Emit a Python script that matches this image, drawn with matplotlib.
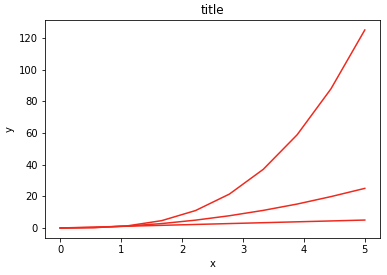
import matplotlib
matplotlib.use("Agg")
import matplotlib.pyplot as plt

x = [0.0, 0.556, 1.111, 1.667, 2.222, 2.778, 3.333, 3.889, 4.444, 5.0]
y_linear = [0.0, 0.56, 1.11, 1.67, 2.22, 2.78, 3.33, 3.89, 4.44, 5.0]
y_square = [0.0, 0.31, 1.23, 2.78, 4.94, 7.72, 11.1, 15.1, 19.8, 25.0]
y_cube = [0.0, 0.17, 1.37, 4.63, 11.0, 21.4, 37.0, 58.8, 87.8, 125.0]

color = "#ee2a1e"

fig = plt.figure(figsize=(387 / 72, 275 / 72), dpi=72)
ax = fig.add_axes([0.116, 0.135, 0.866, 0.792])
for ys in (y_linear, y_square, y_cube):
    ax.plot(x, ys, color=color, linewidth=1.5)
ax.set_title("title", fontsize=12)
ax.set_xlabel("x")
ax.set_ylabel("y")
ax.set_yticks([0, 20, 40, 60, 80, 100, 120])
fig.savefig("out.png", dpi=72)
